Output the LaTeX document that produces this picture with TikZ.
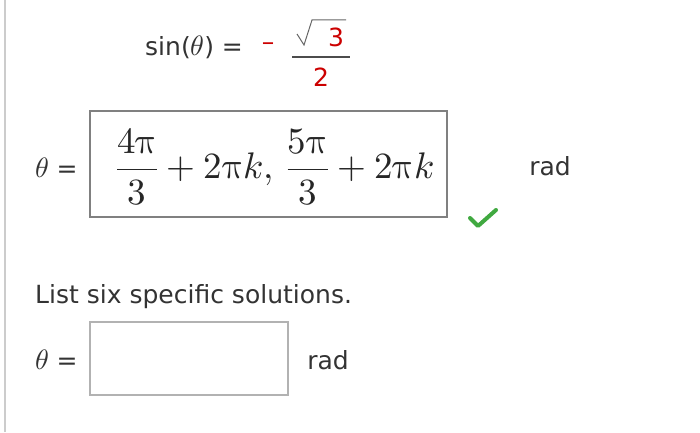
\documentclass[tikz,border=0pt]{standalone}
\usepackage{unicode-math}
\setmathfont{Latin Modern Math}
\setsansfont{DejaVu Sans}
\begin{document}
\begin{tikzpicture}[x=1pt,y=1pt,
  txt/.style={font=\sffamily\fontsize{25}{30}\selectfont,text=black!80,inner sep=0pt},
  red3/.style={font=\sffamily\fontsize{25}{30}\selectfont,text=red!80!black,inner sep=0pt},
  box/.style={draw=black!50,line width=1.5pt}]
\useasboundingbox (0,0) rectangle (700,432);
\fill[white] (0,0) rectangle (700,432);
\draw[black!20,line width=2pt] (5,0) -- (5,432);
% first line
\node[txt,anchor=west] (sin) at (145,385) {sin(\fontsize{28}{30}\selectfont$\theta$\fontsize{25}{30}\selectfont) =};
\node[red3] (minus) at (268,385) {\textendash};
\draw[black!70,line width=1.2pt] (292,375) -- (350,375) coordinate (barend);
\node[red3] (three) at (336,395) {3};
\draw[black!60,line width=1pt] (297,398) -- (304,387) -- (312,412) -- (346,412);
\node[red3] (two) at (321,355) {2};
% second line
\node[txt,anchor=west] (th1) at (35,264) {\fontsize{28}{30}\selectfont$\theta$\fontsize{25}{30}\selectfont\ =};
\draw[box] (90,215) rectangle (447,321);
\node[inner sep=0pt,text=black!85,font=\fontsize{37}{42}\selectfont] (ans) at (275,265)
  {$\displaystyle\frac{4\uppi}{3}+2\uppi k,\,\frac{5\uppi}{3}+2\uppi k$};
\node[txt] (rad1) at (550,266) {rad};
\draw[green!55!black!75,line width=4pt,line cap=round,line join=round] (470,214) -- (478,206) -- (496,222);
% third
\node[txt,anchor=west] (list) at (35,135) {List six specific solutions.};
\node[txt,anchor=west] (th2) at (35,72) {\fontsize{28}{30}\selectfont$\theta$\fontsize{25}{30}\selectfont\ =};
\draw[box,black!30] (90,37) rectangle (288,110);
\node[txt] (rad2) at (328,72) {rad};
\end{tikzpicture}
\end{document}
